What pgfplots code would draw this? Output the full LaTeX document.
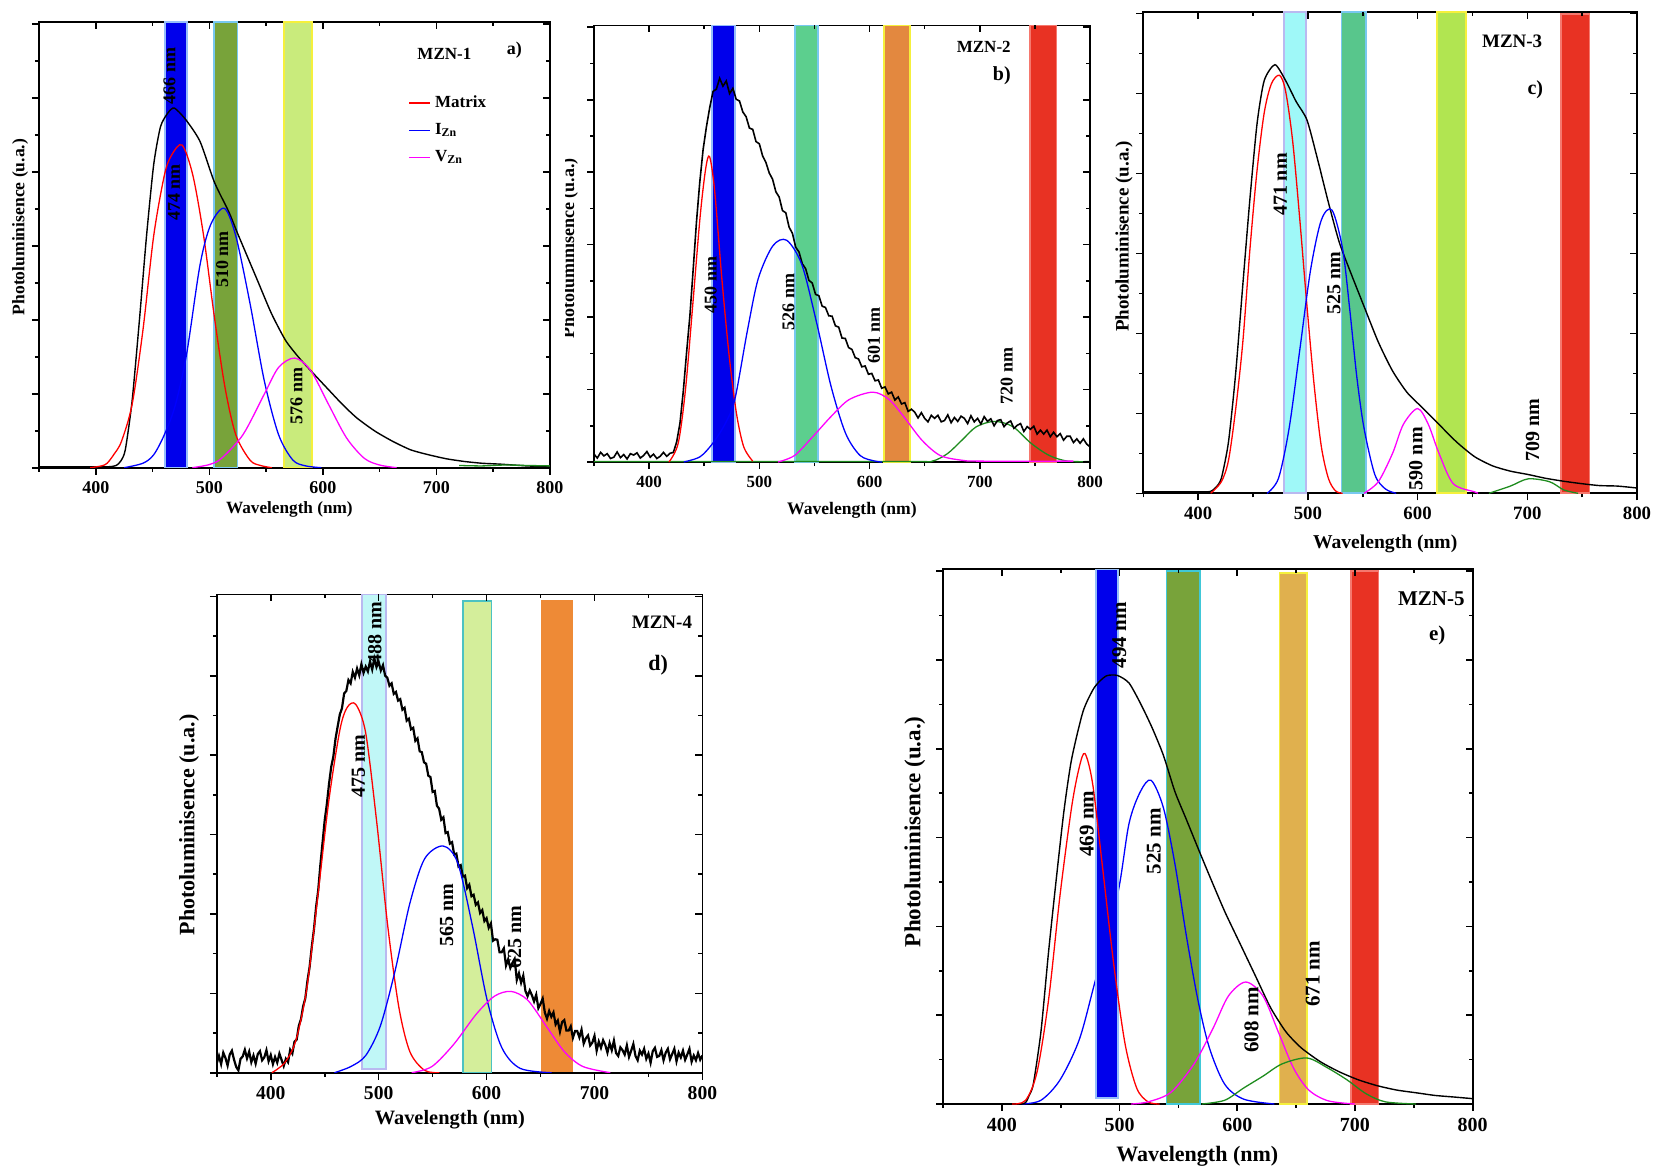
\documentclass[border=0pt]{standalone}
\usepackage{fontspec}
\setmainfont{Liberation Serif}
\usepackage{pgfplots}
\pgfplotsset{compat=1.18}

% band fills and edges
\definecolor{bandblue}{RGB}{0,0,235}
\definecolor{edgeblue}{RGB}{150,190,250}
\definecolor{bandolive}{RGB}{120,163,58}
\definecolor{edgesky}{RGB}{120,200,240}
\definecolor{bandlime}{RGB}{201,235,124}
\definecolor{edgeyellow}{RGB}{245,240,60}
\definecolor{bandmint}{RGB}{92,207,142}
\definecolor{bandorange}{RGB}{227,136,63}
\definecolor{bandred}{RGB}{232,50,35}
\definecolor{edgered}{RGB}{245,120,110}
\definecolor{bandcyan}{RGB}{159,248,248}
\definecolor{edgelav}{RGB}{185,185,240}
\definecolor{bandmintdark}{RGB}{88,198,140}
\definecolor{bandlimebright}{RGB}{177,229,81}
\definecolor{bandcyanpale}{RGB}{192,247,247}
\definecolor{bandlimepale}{RGB}{212,238,155}
\definecolor{edgeteal}{RGB}{76,194,194}
\definecolor{bandorangebright}{RGB}{238,138,54}
\definecolor{bandtan}{RGB}{224,176,78}
\definecolor{edgecyan}{RGB}{64,200,216}
% fitted component colours
\definecolor{fitred}{RGB}{255,0,0}
\definecolor{fitblue}{RGB}{0,0,255}
\definecolor{fitmagenta}{RGB}{255,0,255}
\definecolor{fitgreen}{RGB}{30,140,30}

\pgfplotsset{
  frame/.style={scale only axis, anchor=south west,
    xmin=350, xmax=800, ymin=0, ymax=100,
    xtick={400,500,600,700,800}, minor xtick={350,450,550,650,750},
    ytick={0,16.6,...,100}, minor y tick num=1,
    major tick length=3.5pt, minor tick length=2pt,
    every tick/.style={black, line width=0.8pt}},
  panel/.style={frame, axis line style={line width=0.9pt},
    tick align=outside, tick pos=left, yticklabels={},
    /pgf/number format/assume math mode=true,
    xlabel={Wavelength (nm)}, ylabel={Photoluminisence (u.a.)}},
  mirror/.style={frame, axis line style={draw=none},
    tick align=inside, tick pos=right, xticklabels={}, yticklabels={}},
  band/.style n args={2}{fill=#1, draw=#2, line width=0.9pt, forget plot},
  fit/.style={smooth, tension=0.5, line width=0.65pt},
  spec/.style={black, line width=0.7pt, forget plot},
}
\tikzset{
  peak/.style={font=\fontsize{9}{10}\selectfont\bfseries, rotate=90},
  paneltag/.style={font=\fontsize{8.5}{10}\selectfont\bfseries},
}

\begin{document}
\begin{tikzpicture}[x=1pt,y=1pt]
\path[use as bounding box] (0,0) rectangle (830,587.5);

%% ---------------- a) MZN-1 ----------------
\begin{axis}[panel, at={(19.5pt,353.65pt)}, width=255.5pt, height=222.85pt,
  tick label style={font=\fontsize{9}{10}\selectfont\bfseries},
  xlabel style={font=\fontsize{8.6}{10}\selectfont\bfseries, at={(axis description cs:0.49,-0.094)}, anchor=center},
  ylabel style={font=\fontsize{8.8}{10}\selectfont\bfseries, at={(axis description cs:-0.037,0.54)}, anchor=center},
  legend style={at={(axis cs:675,84.5)}, anchor=north west, draw=none, fill=none,
    font=\fontsize{8.5}{10}\selectfont\bfseries, row sep=2.5pt, inner sep=0pt},
  legend cell align=left,
  legend image code/.code={\draw[#1, line width=0.8pt] (0pt,0pt) -- (10.5pt,0pt);}]
\addplot[band={bandblue}{edgeblue}] coordinates {(461,0)(461,100)(480,100)(480,0)} -- cycle;
\addplot[band={bandolive}{edgesky}] coordinates {(504.4,0)(504.4,100)(524.8,100)(524.8,0)} -- cycle;
\addplot[band={bandlime}{edgeyellow}] coordinates {(565.7,0)(565.7,100)(590.3,100)(590.3,0)} -- cycle;
\addplot[spec, smooth, tension=0.4] coordinates {
(350,0.2)(380,0.2)(410,0.2)(418,0.5)(422,1.5)(426,4)(432,15)(438.4,33)(444.7,52)
(451,68)(457,76.5)(463.5,79.6)(469.2,80.7)(479.2,78.1)(491.8,73.2)(504.4,64.1)
(517,57.5)(525,52.5)(542.1,42.2)(554.7,34.6)(567.3,28.5)(579.9,24.4)(592.5,20.9)
(605,17.5)(617.6,14.1)(630.2,11.1)(645.9,8.2)(661.6,5.9)(677.4,4.0)(693.1,2.9)
(708.8,2.0)(724.5,1.4)(740,1.0)(756,0.8)(780,0.4)(800,0.2)};
\addplot[fitgreen, fit, forget plot] coordinates {(720,0.5)(740,0.4)(760,0.6)(780,0.5)(800,0.4)};
\addplot[fitred, fit] coordinates {
(395,0)(405,0.4)(410,1)(416,3)(422.6,5.9)(432,14.2)(441.5,30.8)(451,52)(460.4,65.6)
(466.7,70.1)(476,72.4)(485.5,65.6)(495,52)(504.4,33.9)(513.8,18)(523.3,7.4)
(535.8,1.7)(545,0.5)(555,0)};
\addlegendentry{Matrix}
\addplot[fitblue, fit] coordinates {
(425,0)(441.5,1)(451,2.9)(460.4,7.4)(470,14)(480,25.5)(491.8,45.5)(501.3,54.6)
(513.2,58.2)(523.3,52)(535.8,36.9)(548.4,19.5)(561,7.4)(573.6,1.7)(585,0.4)(598.7,0)};
\addlegendentry{I\textsubscript{Zn}}
\addplot[fitmagenta, fit] coordinates {
(485,0)(500,0.7)(510.7,2.1)(529.6,7.4)(548.4,16.5)(561,22.5)(575.2,24.6)(589.3,21.8)
(605,14.2)(620.8,6.7)(636.5,2.1)(650,0.6)(665,0)};
\addlegendentry{V\textsubscript{Zn}}
\node[peak] at (axis cs:465,87.9) {466 nm};
\node[peak] at (axis cs:468.9,61.8) {474 nm};
\node[peak] at (axis cs:511.3,46.7) {510 nm};
\node[peak] at (axis cs:576.7,16.1) {576 nm};
\node[paneltag] at (axis cs:707,92.8) {MZN-1};
\node[paneltag, font=\fontsize{9}{10}\selectfont\bfseries] at (axis cs:768.6,93.6) {a)};
\end{axis}
\begin{axis}[mirror, at={(19.5pt,353.65pt)}, width=255.5pt, height=222.85pt]
\end{axis}

%% ---------------- b) MZN-2 ----------------
\begin{axis}[panel, at={(297pt,356.5pt)}, width=248pt, height=218.25pt, ylabel={},
  tick label style={font=\fontsize{8.5}{10}\selectfont\bfseries},
  xlabel style={font=\fontsize{8.8}{10}\selectfont\bfseries, at={(axis description cs:0.52,-0.11)}, anchor=center}]
\addplot[band={bandblue}{edgeblue}] coordinates {(457.4,0)(457.4,100)(477.9,100)(477.9,0)} -- cycle;
\addplot[band={bandmint}{edgesky}] coordinates {(532.7,0)(532.7,100)(553.5,100)(553.5,0)} -- cycle;
\addplot[band={bandorange}{edgeyellow}] coordinates {(612.9,0)(612.9,100)(637,100)(637,0)} -- cycle;
\addplot[band={bandred}{edgered}] coordinates {(745.5,0)(745.5,100)(769.6,100)(769.6,0)} -- cycle;
\addplot[fitgreen, fit, forget plot] coordinates {
(350,0.1)(500,0.1)(640,0.1)(657,0.2)(670.6,1.9)(683.8,5)(697,8.1)(713.5,9.3)(730,8.1)
(746.5,4.3)(763,1.5)(779.5,0.2)(800,0.1)};
\addplot[spec, line width=0.8pt] coordinates {
(350,1.8)(353,0.9)(356,2.2)(359,1.4)(362,1.9)(365,0.8)(368,1.1)(371,2.3)(374,1.0)(377,1.7)
(380,0.7)(383,1.9)(386,1.6)(389,2.1)(392,0.9)(395,1.5)(398,2.4)(401,1.1)(404,1.8)(407,0.8)
(410,1.3)(413,2.2)(416,1.3)(419,2.0)(422,2.2)(425,4.6)(428,8.9)(431,16.2)(434,25.1)(437,33.5)
(440,44.2)(443,55.1)(446,64.2)(449,71.6)(452,76.8)(455,81.2)(458,84.9)(461,85.4)(464,87.9)
(467,86.1)(470,87.3)(473,84.4)(476,85.6)(479,83.1)(482,82.7)(485,80.2)(488,79.1)(491,76.5)
(494,76.2)(497,73.4)(500,72.9)(503,70.1)(506,68.6)(509,66.2)(512,64.8)(515,61.9)(518,60.7)
(521,57.6)(524,57.1)(527,53.8)(530,52.4)(533,49.2)(536,48.1)(539,45.4)(542,44.3)(545,41.6)
(548,41.0)(551,38.4)(554,38.1)(557,35.7)(560,35.4)(563,33.5)(566,33.4)(569,31.2)(572,30.9)
(575,28.4)(578,28.3)(581,26.2)(584,25.8)(587,23.9)(590,23.6)(593,21.8)(596,22.0)(599,20.1)
(602,20.3)(605,18.6)(608,18.8)(611,16.9)(614,17.2)(617,15.6)(620,16.0)(623,14.2)(626,14.9)
(629,13.3)(632,13.6)(635,11.6)(638,12.1)(641,11.4)(644,10.1)(647,11.3)(650,10.0)(653,9.2)
(656,10.7)(659,10.0)(662,10.7)(665,9.2)(668,9.5)(671,10.8)(674,9.0)(677,10.2)(680,9.3)
(683,10.5)(686,10.0)(689,8.8)(692,10.6)(695,9.2)(698,10.0)(701,8.7)(704,10.4)(707,9.3)
(710,9.9)(713,8.3)(716,9.5)(719,9.7)(722,8.1)(725,8.95)(728,9.4)(731,7.7)(734,8.4)(737,8.8)
(740,7.0)(743,8.1)(746,7.5)(749,8.2)(752,6.4)(755,7.3)(758,6.4)(761,7.3)(764,5.8)(767,6.8)
(770,5.8)(773,6.5)(776,5.0)(779,5.9)(782,5.9)(785,4.45)(788,5.3)(791,4.3)(794,5.3)(797,4.1)
(800,3.5)};
\addplot[fitred, fit, forget plot] coordinates {
(418,0)(426.4,4.3)(433,16.6)(439.6,36)(446.2,56)(451.2,67)(454.8,70)(459.4,62.3)(466,42)
(472.6,24.4)(479.2,11.2)(485.8,3.5)(494,0.2)};
\addplot[fitblue, fit, forget plot] coordinates {
(431.4,0)(446.2,1.2)(457.8,4.3)(469.3,8.9)(477.9,14.5)(489.1,30)(499,42)(512.2,49.5)
(524.8,50.8)(538.6,45.2)(551.8,32.1)(565,17.4)(578.2,6.6)(591.4,1.5)(605,0.2)(611.2,0)};
\addplot[fitmagenta, fit, forget plot] coordinates {
(517,0)(532,1.5)(548.5,5.8)(565,10.4)(581.5,14.3)(603,16)(617.8,14.3)(631,10.4)(647.5,5)
(664,1.5)(683.8,0.4)(700,0.2)(785,0.2)};
\node[peak] at (axis cs:456,40.6) {450 nm};
\node[peak] at (axis cs:526.4,36.7) {526 nm};
\node[peak] at (axis cs:604,29) {601 nm};
\node[peak] at (axis cs:724.4,19.7) {720 nm};
\node[paneltag] at (axis cs:703.6,95) {MZN-2};
\node[paneltag, font=\fontsize{10}{11}\selectfont\bfseries] at (axis cs:720,88.4) {b)};
\end{axis}
\begin{axis}[mirror, at={(297pt,356.5pt)}, width=248pt, height=218.25pt]
\end{axis}
\begin{scope}
\clip (282.5,300) rectangle (296,587.5);
\node[rotate=90, anchor=base, font=\fontsize{9}{10}\selectfont\bfseries] at (287,463.2) {Photoluminisence (u.a.)};
\end{scope}

%% ---------------- c) MZN-3 ----------------
\begin{axis}[panel, at={(571.65pt,340.85pt)}, width=246.85pt, height=240.8pt,
  tick label style={font=\fontsize{9.4}{10}\selectfont\bfseries},
  xlabel style={font=\fontsize{9.8}{11}\selectfont\bfseries, at={(axis description cs:0.49,-0.104)}, anchor=center},
  ylabel style={font=\fontsize{9.5}{11}\selectfont\bfseries, at={(axis description cs:-0.039,0.533)}, anchor=center}]
\addplot[band={bandcyan}{edgelav}] coordinates {(478,0)(478,100)(498.5,100)(498.5,0)} -- cycle;
\addplot[band={bandmintdark}{edgesky}] coordinates {(530.7,0)(530.7,100)(552.8,100)(552.8,0)} -- cycle;
\addplot[band={bandlimebright}{edgeyellow}] coordinates {(617.9,0)(617.9,100)(643.9,100)(643.9,0)} -- cycle;
\addplot[band={bandred}{edgered}] coordinates {(730.7,0)(730.7,99.5)(756.7,99.5)(756.7,0)} -- cycle;
\addplot[spec, smooth, tension=0.4] coordinates {
(350,0.3)(380,0.3)(405,0.3)(411.4,0.4)(416,1.2)(421.1,3.1)(427.6,10.6)(434.1,24.7)
(440.7,43.3)(447.2,61.2)(453.7,76.8)(460.2,85.7)(470,89)(479.7,85.7)(489.4,81.3)
(499.2,77.5)(508.9,69.3)(518.7,60.4)(528.5,52.2)(538.2,46.3)(551.2,38.8)(564.2,31.4)
(577.2,25.4)(590.2,21)(603.3,18)(619.5,14.3)(635.8,10.6)(652,7.6)(668.3,5.7)(684.6,4.6)
(700.8,3.9)(717,3.1)(733.3,2.5)(749.6,2)(765.9,1.6)(782.1,1.5)(800,1.1)};
\addplot[fitred, fit, forget plot] coordinates {
(411.4,0)(421.1,2.4)(427.6,6.8)(434.1,17.3)(440.7,31.4)(447.2,50.7)(453.7,67.1)(460.2,79)
(466.7,85)(474.1,86.8)(479.7,83.5)(486.2,73)(492.7,56.7)(499.2,38.8)(505.7,22.5)
(512.2,9.8)(518.7,3.1)(525.2,0.5)(531.7,0)};
\addplot[fitblue, fit, forget plot] coordinates {
(462.8,0)(473.2,3.1)(482.9,13.5)(492.7,29.9)(502.4,46.3)(512.2,56.7)(522,58.8)(531.7,50.7)
(538.2,38.1)(544.7,24)(551.2,13.5)(561,3.9)(570.7,0.9)(580.5,0)};
\addplot[fitmagenta, fit, forget plot] coordinates {
(551.2,0)(564.2,2.4)(577.2,8.3)(587,14.3)(600,17.6)(609.8,14.3)(619.5,8.3)(632.5,2)
(652,0.3)(655,0)};
\addplot[fitgreen, fit, forget plot] coordinates {
(665,0)(684.6,1.5)(700.8,3)(720.3,2.4)(733.3,0.7)(746.3,0)};
\node[peak, font=\fontsize{10}{11}\selectfont\bfseries] at (axis cs:474.8,64.1) {471 nm};
\node[peak, font=\fontsize{10}{11}\selectfont\bfseries] at (axis cs:523.6,43.7) {525 nm};
\node[peak, font=\fontsize{10}{11}\selectfont\bfseries] at (axis cs:598.4,7.2) {590 nm};
\node[peak, font=\fontsize{10}{11}\selectfont\bfseries] at (axis cs:704.7,13.2) {709 nm};
\node[paneltag, font=\fontsize{9.5}{11}\selectfont\bfseries] at (axis cs:686.2,93.9) {MZN-3};
\node[paneltag, font=\fontsize{10}{11}\selectfont\bfseries] at (axis cs:707.3,83.9) {c)};
\end{axis}
\begin{axis}[mirror, at={(571.65pt,340.85pt)}, width=246.85pt, height=240.8pt]
\end{axis}

%% ---------------- d) MZN-4 ----------------
\begin{axis}[panel, at={(108.4pt,51.15pt)}, width=242.8pt, height=239.15pt,
  tick label style={font=\fontsize{9.8}{11}\selectfont\bfseries},
  xlabel style={font=\fontsize{10.2}{12}\selectfont\bfseries, at={(axis description cs:0.48,-0.098)}, anchor=center},
  ylabel style={font=\fontsize{11}{12}\selectfont\bfseries, at={(axis description cs:-0.057,0.518)}, anchor=center}]
\addplot[band={bandcyanpale}{edgelav}] coordinates {(484.6,0.8)(484.6,100)(506.7,100)(506.7,0.8)} -- cycle;
\addplot[band={bandlimepale}{edgeteal}] coordinates {(578.3,0)(578.3,98.7)(604.6,98.7)(604.6,0)} -- cycle;
\addplot[band={bandorangebright}{bandorangebright}] coordinates {(651.7,0.3)(651.7,98.7)(678.9,98.7)(678.9,0.3)} -- cycle;
\addplot[spec, line width=1.1pt] coordinates {
(350,2.0)(352,3.5)(354,1.8)(356,4.2)(358,3.1)(360,1.5)(362,3.8)(364,4.6)(366,2.7)(368,1.2)
(370,0.5)(372,2.9)(374,3.4)(376,4.8)(378,3.0)(380,4.4)(382,2.2)(384,3.6)(386,1.9)(388,3.9)
(390,4.5)(392,2.6)(394,3.2)(396,4.7)(398,2.4)(400,3.7)(402,1.8)(404,3.3)(406,2.1)(408,4.0)
(410,2.7)(412,1.4)(414,2.9)(416,2.2)(418,4.8)(420,4.0)(422,6.5)(424,6.9)(426,9.8)(428,11.2)
(430,13.9)(432,15.5)(434,19.2)(436,22.1)(438,26.3)(440,29.9)(442,34.6)(444,38.2)(446,43.5)
(448,48.1)(450,52.8)(452,56.2)(454,60.4)(456,63.9)(458,66.1)(460,69.8)(462,72.4)(464,74.9)
(466,76.2)(468,79.3)(470,79.8)(472,82.1)(474,81.4)(476,83.8)(478,82.6)(480,84.5)(482,83.1)
(484,85.4)(486,83.6)(488,84.9)(490,83.9)(492,86.0)(494,84.3)(496,86.6)(498,84.8)(500,85.9)
(502,84.1)(504,85.2)(506,83.0)(508,82.6)(510,80.9)(512,81.4)(514,79.2)(516,79.6)(518,77.8)
(520,78.1)(522,75.9)(524,76.3)(526,73.6)(528,74.0)(530,71.8)(532,72.1)(534,69.4)(536,69.9)
(538,67.2)(540,67.0)(542,64.9)(544,64.6)(546,62.1)(548,61.8)(550,58.7)(552,58.9)(554,55.8)
(556,55.2)(558,52.9)(560,53.4)(562,50.1)(564,50.3)(566,47.9)(568,48.2)(570,45.6)(572,45.8)
(574,43.1)(576,43.4)(578,41.0)(580,41.2)(582,38.6)(584,39.3)(586,36.9)(588,37.2)(590,35.1)
(592,35.6)(594,33.4)(596,34.0)(598,31.7)(600,32.3)(602,30.3)(604,31.2)(606,27.6)(608,27.9)
(610,27.8)(612,25.2)(614,25.2)(616,26.0)(618,22.4)(620,23.7)(622,21.9)(624,23.0)(626,23.8)
(628,19.4)(630,20.8)(632,18.8)(634,20.3)(636,17.1)(638,16.0)(640,17.2)(642,16.2)(644,14.9)
(646,16.3)(648,13.5)(650,14.4)(652,15.5)(654,12.6)(656,11.3)(658,12.9)(660,11.7)(662,12.6)
(664,10.1)(666,10.9)(668,8.6)(670,10.6)(672,11.0)(674,8.8)(676,8.8)(678,9.7)(680,7.3)
(682,8.7)(684,8.7)(686,7.4)(688,9.0)(690,6.1)(692,7.2)(694,7.8)(696,5.7)(698,6.3)(700,7.7)
(702,4.6)(704,6.5)(706,5.2)(708,6.8)(710,5.8)(712,4.2)(714,6.2)(716,4.7)(718,6.7)(720,4.1)
(722,3.5)(724,5.3)(726,4.7)(728,3.8)(730,5.7)(732,3.3)(734,4.6)(736,6.0)(738,3.5)(740,2.6)
(742,4.6)(744,3.8)(746,5.0)(748,2.9)(750,4.0)(752,2.1)(754,4.5)(756,5.2)(758,3.3)(760,3.5)
(762,4.7)(764,2.6)(766,4.2)(768,5.0)(770,2.8)(772,3.9)(774,5.0)(776,2.4)(778,4.2)(780,3.2)
(782,4.6)(784,2.7)(786,3.8)(788,5.0)(790,2.3)(792,3.6)(794,2.6)(796,4.1)(798,2.7)(800,3.6)};
\addplot[fitred, fit, forget plot] coordinates {
(401,0)(413,2.1)(423.2,6.7)(433.4,17.6)(443.6,36.9)(453.9,57)(464.1,71.7)(470.9,76.4)
(478.8,77)(488,71)(498.2,52.4)(508.4,30.7)(518.7,13.7)(528.9,4.4)(542.5,0.5)(556.2,0)};
\addplot[fitblue, fit, forget plot] coordinates {
(459,0)(474.3,1.3)(488,3.6)(501.6,9.8)(515.3,21.4)(528.9,35.4)(542.5,44.7)(559.6,47.4)
(573.2,43.9)(586.9,30.7)(600.5,15.2)(614.2,5.2)(631.2,0.9)(660.2,0)};
\addplot[fitmagenta, fit, forget plot] coordinates {
(530.6,0)(549.4,1.3)(569.8,6)(590.3,12.2)(607.3,16)(622.7,17)(638,15.2)(655.1,9.8)
(672.1,4.4)(689.2,1.3)(714.7,0)};
\node[peak, font=\fontsize{10}{11}\selectfont\bfseries] at (axis cs:496.5,91.9) {488 nm};
\node[peak, font=\fontsize{10}{11}\selectfont\bfseries] at (axis cs:481.2,64) {475 nm};
\node[peak, font=\fontsize{10}{11}\selectfont\bfseries] at (axis cs:563,33) {565 nm};
\node[peak, font=\fontsize{10}{11}\selectfont\bfseries] at (axis cs:626,28.4) {625 nm};
\node[paneltag, font=\fontsize{9.5}{11}\selectfont\bfseries] at (axis cs:762.5,94.2) {MZN-4};
\node[paneltag, font=\fontsize{11}{12}\selectfont\bfseries] at (axis cs:759.1,85.3) {d)};
\end{axis}
\begin{axis}[mirror, at={(108.4pt,51.15pt)}, width=242.8pt, height=239.15pt]
\end{axis}

%% ---------------- e) MZN-5 ----------------
\begin{axis}[panel, at={(471.5pt,35.5pt)}, width=264.85pt, height=267.5pt,
  tick label style={font=\fontsize{10}{11}\selectfont\bfseries},
  xlabel style={font=\fontsize{11}{12}\selectfont\bfseries, at={(axis description cs:0.48,-0.097)}, anchor=center},
  ylabel style={font=\fontsize{11.5}{12}\selectfont\bfseries, at={(axis description cs:-0.053,0.509)}, anchor=center}]
\addplot[band={bandolive}{edgecyan}] coordinates {(539.8,0)(539.8,99.6)(568.1,99.6)(568.1,0)} -- cycle;
\addplot[band={bandtan}{edgeyellow}] coordinates {(635.8,0)(635.8,99.2)(659.2,99.2)(659.2,0)} -- cycle;
\addplot[band={bandred}{edgered}] coordinates {(696.6,0)(696.6,99.6)(720,99.6)(720,0)} -- cycle;
\addplot[fitblue, fit, forget plot] coordinates {
(416.9,0)(433.2,0.7)(449.4,4.5)(465.7,12)(478.7,22.5)(498.2,39)(508,52.4)(517.7,58.4)
(526.8,60.5)(537.2,55.4)(547,44.9)(556.7,31.5)(566.5,19.5)(576.3,10.5)(589.3,3.7)
(605.5,0.9)(631.5,0)};
\addplot[band={bandblue}{edgeblue}] coordinates {(479.7,1.1)(479.7,100)(498.9,100)(498.9,1.1)} -- cycle;
\addplot[spec, smooth, tension=0.4] coordinates {
(350,0)(380,0)(415,0)(420.2,0.3)(423,1.5)(426.7,3.7)(433.2,13.5)(439.7,28.5)(446.2,42)
(452.7,54.7)(459.2,64.4)(469,73.4)(478.7,77.9)(488.5,80)(498.2,80.1)(508,78.7)(517.7,74.9)
(527.5,70.4)(537.2,65.2)(547,58.4)(556.7,53.2)(566.5,47.9)(576.3,42.7)(589.3,36)
(602.3,30)(615.3,24)(628.3,18)(641.3,13.5)(654.3,10.5)(670.6,7.9)(686.8,6)(703.1,4.5)
(719.3,3.4)(735.6,2.6)(751.9,2.1)(768.1,1.6)(784.4,1.3)(800,1)};
\addplot[fitred, fit, forget plot] coordinates {
(408.8,0)(420.2,0.7)(429.9,6)(439.7,19.5)(449.4,39)(459.2,55.4)(465.7,62.9)(470.6,65.5)
(477.1,59.9)(485.2,44.9)(495,26.2)(504.7,11.2)(514.5,3)(524.2,0.4)(534,0)};
\addplot[fitmagenta, fit, forget plot] coordinates {
(509.6,0)(524.2,0.4)(543.7,2.2)(563.3,7.5)(579.5,14.2)(592.5,20.2)(607.2,22.8)(621.8,20.2)
(634.8,13.5)(647.8,6.7)(660.8,2.6)(677.1,0.6)(699.8,0)};
\addplot[fitgreen, fit, forget plot] coordinates {
(569.8,0)(589.3,0.7)(605.5,3)(621.8,5.2)(638.1,7.5)(659.2,8.6)(677.1,6.7)(693.3,4.5)
(709.6,1.9)(725.9,0.4)(751.9,0)};
\node[peak, font=\fontsize{10.5}{12}\selectfont\bfseries] at (axis cs:499.8,87.6) {494 nm};
\node[peak, font=\fontsize{10.5}{12}\selectfont\bfseries] at (axis cs:472.2,52.4) {469 nm};
\node[peak, font=\fontsize{10.5}{12}\selectfont\bfseries] at (axis cs:529.1,49.1) {525 nm};
\node[peak, font=\fontsize{10.5}{12}\selectfont\bfseries] at (axis cs:612,15.7) {608 nm};
\node[peak, font=\fontsize{10.5}{12}\selectfont\bfseries] at (axis cs:664.1,24.3) {671 nm};
\node[paneltag, font=\fontsize{10.5}{12}\selectfont\bfseries] at (axis cs:764.9,94.5) {MZN-5};
\node[paneltag, font=\fontsize{10.5}{12}\selectfont\bfseries] at (axis cs:769.8,87.6) {e)};
\end{axis}
\begin{axis}[mirror, at={(471.5pt,35.5pt)}, width=264.85pt, height=267.5pt]
\end{axis}
\end{tikzpicture}
\end{document}
